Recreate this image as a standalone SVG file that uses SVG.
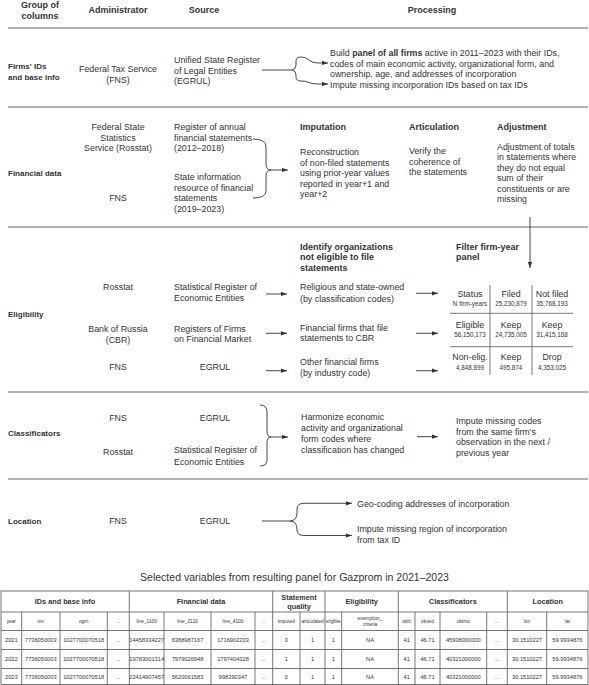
<svg xmlns="http://www.w3.org/2000/svg" width="589" height="685" viewBox="0 0 589 685">
<style>
text{font-family:"Liberation Sans",Arial,sans-serif;fill:#333;font-size:8.85px}
.h{font-weight:bold;font-size:9px}
.rl{font-weight:bold;font-size:8px}
.m{text-anchor:middle}
.s{font-size:6.3px}
.th{font-weight:bold;font-size:7.3px;text-anchor:middle}
.sh{font-size:4.8px;text-anchor:middle}
.td{font-size:5.7px;text-anchor:middle}
.sep{stroke:#666;stroke-width:1.2;fill:none}
.ln{stroke:#333;stroke-width:0.9;fill:none}
.grid{stroke:#777;stroke-width:1;fill:none}
.tb{stroke:#666;stroke-width:0.9;fill:none}
</style>
<defs>
<marker id="ah" markerUnits="userSpaceOnUse" markerWidth="7" markerHeight="5" refX="6.5" refY="2.3" orient="auto">
<path d="M0,0 L6.5,2.3 L0,4.6 z" fill="#333"/>
</marker>
</defs>
<rect width="589" height="685" fill="#fff"/>

<g id="separators">
<line class="sep" x1="8" y1="28" x2="588" y2="28"/>
<line class="sep" x1="8" y1="107" x2="588" y2="107"/>
<line class="sep" x1="8" y1="227" x2="588" y2="227"/>
<line class="sep" x1="8" y1="392" x2="588" y2="392"/>
<line class="sep" x1="8" y1="479" x2="588" y2="479"/>
</g>

<g id="header">
<text class="h m" x="40" y="8">Group of</text>
<text class="h m" x="40" y="19">columns</text>
<text class="h m" x="118" y="12.5">Administrator</text>
<text class="h m" x="204" y="12.5">Source</text>
<text class="h m" x="432" y="12.5">Processing</text>
</g>

<g id="row-firms">
<text class="rl" x="8" y="69">Firms' IDs</text>
<text class="rl" x="8" y="79.5">and base info</text>
<text class="m" x="118" y="72">Federal Tax Service</text>
<text class="m" x="118" y="83">(FNS)</text>
<text x="174" y="63">Unified State Register</text>
<text x="174" y="73.5">of Legal Entities</text>
<text x="174" y="84">(EGRUL)</text>
<text x="330" y="56">Build <tspan font-weight="bold">panel of all firms</tspan> active in 2011–2023 with their IDs,</text>
<text x="330" y="66.5">codes of main economic activity, organizational form, and</text>
<text x="330" y="77">ownership, age, and addresses of incorporation</text>
<text x="330" y="88">Impute missing incorporation IDs based on tax IDs</text>
</g>

<g id="row-financial">
<text class="rl" x="8" y="176">Financial data</text>
<text class="m" x="118" y="130">Federal State</text>
<text class="m" x="118" y="140.5">Statistics</text>
<text class="m" x="118" y="151">Service (Rosstat)</text>
<text class="m" x="118" y="201">FNS</text>
<text x="174" y="130">Register of annual</text>
<text x="174" y="140.5">financial statements</text>
<text x="174" y="151">(2012–2018)</text>
<text x="174" y="180">State information</text>
<text x="174" y="190.5">resource of financial</text>
<text x="174" y="201">statements</text>
<text x="174" y="211.5">(2019–2023)</text>
<text class="h" x="300" y="129.5">Imputation</text>
<text class="h" x="409" y="129.5">Articulation</text>
<text class="h" x="497" y="129.5">Adjustment</text>
<text x="300" y="155">Reconstruction</text>
<text x="300" y="165.5">of non-filed statements</text>
<text x="300" y="176">using prior-year values</text>
<text x="300" y="186.5">reported in year+1 and</text>
<text x="300" y="197">year+2</text>
<text x="409" y="154">Verify the</text>
<text x="409" y="164.5">coherence of</text>
<text x="409" y="175">the statements</text>
<text x="497" y="149.5">Adjustment of totals</text>
<text x="497" y="160">in statements where</text>
<text x="497" y="170.5">they do not equal</text>
<text x="497" y="181">sum of their</text>
<text x="497" y="191.5">constituents or are</text>
<text x="497" y="202">missing</text>
</g>

<g id="row-eligibility">
<text class="rl" x="8" y="317">Eligibility</text>
<text class="m" x="118" y="290">Rosstat</text>
<text x="174" y="290">Statistical Register of</text>
<text x="174" y="301">Economic Entities</text>
<text class="m" x="118" y="331.5">Bank of Russia</text>
<text class="m" x="118" y="342.5">(CBR)</text>
<text x="174" y="331.5">Registers of Firms</text>
<text x="174" y="342">on Financial Market</text>
<text class="m" x="118" y="370">FNS</text>
<text class="m" x="215" y="370">EGRUL</text>
<text class="h" x="300" y="249.5">Identify organizations</text>
<text class="h" x="300" y="260">not eligible to file</text>
<text class="h" x="300" y="270.5">statements</text>
<text x="300" y="290">Religious and state-owned</text>
<text x="300" y="301.5">(by classification codes)</text>
<text x="300" y="330.5">Financial firms that file</text>
<text x="300" y="341">statements to CBR</text>
<text x="300" y="365">Other financial firms</text>
<text x="300" y="375.5">(by industry code)</text>
<text class="h" x="456" y="249.5">Filter firm-year</text>
<text class="h" x="456" y="260">panel</text>
</g>

<g id="filter-panel">
<line class="grid" x1="490" y1="285" x2="490" y2="375"/>
<line class="grid" x1="532" y1="285" x2="532" y2="375"/>
<line class="grid" x1="450" y1="313.3" x2="573" y2="313.3"/>
<line class="grid" x1="450" y1="346.7" x2="573" y2="346.7"/>
<text class="m" x="470" y="296.5">Status</text>
<text class="m s" x="470" y="305.5">N firm-years</text>
<text class="m" x="511" y="296.5">Filed</text>
<text class="m s" x="511" y="305.5">25,230,879</text>
<text class="m" x="552" y="296.5">Not filed</text>
<text class="m s" x="552" y="305.5">35,768,193</text>
<text class="m" x="470" y="328">Eligible</text>
<text class="m s" x="470" y="337">56,150,173</text>
<text class="m" x="511" y="328">Keep</text>
<text class="m s" x="511" y="337">24,735,005</text>
<text class="m" x="552" y="328">Keep</text>
<text class="m s" x="552" y="337">31,415,168</text>
<text class="m" x="470" y="360">Non-elig.</text>
<text class="m s" x="470" y="369.5">4,848,899</text>
<text class="m" x="511" y="360">Keep</text>
<text class="m s" x="511" y="369.5">495,874</text>
<text class="m" x="552" y="360">Drop</text>
<text class="m s" x="552" y="369.5">4,353,025</text>
</g>

<g id="row-classificators">
<text class="rl" x="8" y="436">Classificators</text>
<text class="m" x="118" y="421">FNS</text>
<text class="m" x="215" y="421">EGRUL</text>
<text class="m" x="118" y="455">Rosstat</text>
<text x="174" y="453">Statistical Register of</text>
<text x="174" y="464.5">Economic Entities</text>
<text x="301" y="420">Harmonize economic</text>
<text x="301" y="431">activity and organizational</text>
<text x="301" y="442">form codes where</text>
<text x="301" y="453">classification has changed</text>
<text x="456" y="424">Impute missing codes</text>
<text x="456" y="434.5">from the same firm's</text>
<text x="456" y="445">observation in the next /</text>
<text x="456" y="455.5">previous year</text>
</g>

<g id="row-location">
<text class="rl" x="8" y="524">Location</text>
<text class="m" x="118" y="524">FNS</text>
<text class="m" x="215" y="524">EGRUL</text>
<text x="357" y="506.5">Geo-coding addresses of incorporation</text>
<text x="357" y="532">Impute missing region of incorporation</text>
<text x="357" y="543">from tax ID</text>
</g>

<g id="connectors">
<path class="ln" d="M262,70 L292,70"/>
<path class="ln" d="M292,70 Q296,69.5 296,65 L296,61 Q296,57 301,57 Q306,57 309,60 Q312,63 318,63 L328,63" marker-end="url(#ah)"/>
<path class="ln" d="M292,70 Q296,70.5 296,75 L296,77 Q296,81 301,81 Q306,81 309,82.5 Q312,84 318,84 L328,84" marker-end="url(#ah)"/>
<path class="ln" d="M253,139 Q266,139 266,147 L266,164 Q266,170 271,170 Q266,170 266,176 L266,191 Q266,198 253,198"/>
<path class="ln" d="M271,170 L288,170" marker-end="url(#ah)"/>
<path class="ln" d="M530,217 L530,268" marker-end="url(#ah)"/>
<path class="ln" d="M266,294 L287,294" marker-end="url(#ah)"/>
<path class="ln" d="M266,333.3 L287,333.3" marker-end="url(#ah)"/>
<path class="ln" d="M266,370.7 L287,370.7" marker-end="url(#ah)"/>
<path class="ln" d="M416,293.3 L438,293.3" marker-end="url(#ah)"/>
<path class="ln" d="M416,333.3 L438,333.3" marker-end="url(#ah)"/>
<path class="ln" d="M416,370.7 L438,370.7" marker-end="url(#ah)"/>
<path class="ln" d="M260,405 Q267,405 267,412 L267,431 Q267,437 271,437 Q267,437 267,443 L267,460 Q267,466 260,466"/>
<path class="ln" d="M271,437 L288,437" marker-end="url(#ah)"/>
<path class="ln" d="M417,436.7 L438,436.7" marker-end="url(#ah)"/>
<path class="ln" d="M262,521 L290,521"/>
<path class="ln" d="M290,521 Q297,520.5 297,513 L297,509 Q297,503.3 304,503.3 L352,503.3" marker-end="url(#ah)"/>
<path class="ln" d="M290,521 Q297,521.5 297,529 L297,530 Q297,535.5 304,535.5 L352,535.5" marker-end="url(#ah)"/>
</g>

<g id="result-table">
<text class="m" x="294.5" y="581" style="font-size:10.5px">Selected variables from resulting panel for Gazprom in 2021–2023</text>
<rect class="tb" x="1" y="591" width="587" height="93.5"/>
<path class="tb" d="M1,612 H588 M1,630.5 H588 M1,649.5 H588 M1,668.5 H588"/>
<path class="tb" d="M129.3,591 V684.5 M272.7,591 V684.5 M325,591 V684.5 M398.3,591 V684.5 M507.3,591 V684.5"/>
<path class="tb" d="M21.7,612 V684.5 M60,612 V684.5 M107.3,612 V684.5 M164,612 V684.5 M211,612 V684.5 M255,612 V684.5 M300,612 V684.5 M341.7,612 V684.5 M415,612 V684.5 M440,612 V684.5 M486.7,612 V684.5 M546.7,612 V684.5"/>
<text class="th" x="65" y="604">IDs and base info</text>
<text class="th" x="201" y="604">Financial data</text>
<text class="th" x="299" y="600">Statement</text>
<text class="th" x="299" y="608.5">quality</text>
<text class="th" x="361.7" y="604">Eligibility</text>
<text class="th" x="452.8" y="604">Classificators</text>
<text class="th" x="547.8" y="604">Location</text>
<g class="sub">
<text class="sh" x="11.3" y="622.8">year</text>
<text class="sh" x="40.8" y="622.8">inn</text>
<text class="sh" x="83.7" y="622.8">ogrn</text>
<text class="sh" x="118.3" y="622.8">...</text>
<text class="sh" x="146.7" y="622.8">line_1100</text>
<text class="sh" x="187.5" y="622.8">line_2110</text>
<text class="sh" x="233" y="622.8">line_4100</text>
<text class="sh" x="263.8" y="622.8">...</text>
<text class="sh" x="286.3" y="622.8">imputed</text>
<text class="sh" x="312.5" y="622.8">articulated</text>
<text class="sh" x="333.3" y="622.8">eligible</text>
<text class="sh" x="370" y="619.5">exemption_</text>
<text class="sh" x="370" y="625.8">criteria</text>
<text class="sh" x="406.7" y="622.8">okfc</text>
<text class="sh" x="427.5" y="622.8">okved</text>
<text class="sh" x="463.3" y="622.8">oktmo</text>
<text class="sh" x="497" y="622.8">...</text>
<text class="sh" x="527" y="622.8">lon</text>
<text class="sh" x="567.4" y="622.8">lat</text>
</g>
<g class="row">
<text class="td" x="11.3" y="642">2021</text>
<text class="td" x="40.8" y="642">7736050003</text>
<text class="td" x="83.7" y="642">1027700070518</text>
<text class="td" x="118.3" y="642">...</text>
<text class="td" x="146.7" y="642">14458334227</text>
<text class="td" x="187.5" y="642">6388987167</text>
<text class="td" x="233" y="642">1716902203</text>
<text class="td" x="263.8" y="642">...</text>
<text class="td" x="286.3" y="642">0</text>
<text class="td" x="312.5" y="642">1</text>
<text class="td" x="333.3" y="642">1</text>
<text class="td" x="370" y="642">NA</text>
<text class="td" x="406.7" y="642">41</text>
<text class="td" x="427.5" y="642">46.71</text>
<text class="td" x="463.3" y="642">45908000000</text>
<text class="td" x="497" y="642">...</text>
<text class="td" x="527" y="642">30.1510227</text>
<text class="td" x="567.4" y="642">59.9934876</text>
</g>
<g class="row">
<text class="td" x="11.3" y="661">2022</text>
<text class="td" x="40.8" y="661">7736050003</text>
<text class="td" x="83.7" y="661">1027700070518</text>
<text class="td" x="118.3" y="661">...</text>
<text class="td" x="146.7" y="661">19783001314</text>
<text class="td" x="187.5" y="661">7979026948</text>
<text class="td" x="233" y="661">1797404328</text>
<text class="td" x="263.8" y="661">...</text>
<text class="td" x="286.3" y="661">1</text>
<text class="td" x="312.5" y="661">1</text>
<text class="td" x="333.3" y="661">1</text>
<text class="td" x="370" y="661">NA</text>
<text class="td" x="406.7" y="661">41</text>
<text class="td" x="427.5" y="661">46.71</text>
<text class="td" x="463.3" y="661">40321000000</text>
<text class="td" x="497" y="661">...</text>
<text class="td" x="527" y="661">30.1510227</text>
<text class="td" x="567.4" y="661">59.9934876</text>
</g>
<g class="row">
<text class="td" x="11.3" y="678.5">2023</text>
<text class="td" x="40.8" y="678.5">7736050003</text>
<text class="td" x="83.7" y="678.5">1027700070518</text>
<text class="td" x="118.3" y="678.5">...</text>
<text class="td" x="146.7" y="678.5">22414907457</text>
<text class="td" x="187.5" y="678.5">5620061583</text>
<text class="td" x="233" y="678.5">998390347</text>
<text class="td" x="263.8" y="678.5">...</text>
<text class="td" x="286.3" y="678.5">0</text>
<text class="td" x="312.5" y="678.5">1</text>
<text class="td" x="333.3" y="678.5">1</text>
<text class="td" x="370" y="678.5">NA</text>
<text class="td" x="406.7" y="678.5">41</text>
<text class="td" x="427.5" y="678.5">46.71</text>
<text class="td" x="463.3" y="678.5">40321000000</text>
<text class="td" x="497" y="678.5">...</text>
<text class="td" x="527" y="678.5">30.1510227</text>
<text class="td" x="567.4" y="678.5">59.9934876</text>
</g>
</g>
</svg>
